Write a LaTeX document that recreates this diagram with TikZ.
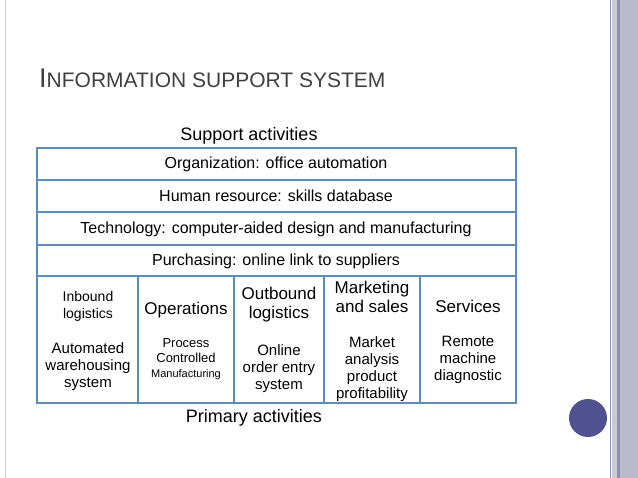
\documentclass[tikz,border=0pt]{standalone}
\usepackage{fontspec}
\setmainfont{Liberation Sans}
\begin{document}
\begin{tikzpicture}[x=1pt,y=-1pt,
  cell/.style={draw=boxblue,line width=1.2pt},
  big/.style={font=\fontsize{18}{20}\selectfont,align=center,text=black},
  mid/.style={font=\fontsize{16}{19}\selectfont,align=center},
  sml/.style={font=\fontsize{13}{15}\selectfont,align=center}]
\definecolor{boxblue}{HTML}{5B8DB8}
\definecolor{bar1}{HTML}{C9CAD8}
\definecolor{bar2}{HTML}{8E90AE}
\definecolor{bar3}{HTML}{B9BACC}
\definecolor{dot}{HTML}{4F5190}
\definecolor{ttl}{HTML}{404040}
\useasboundingbox (0,0) rectangle (638,478);
\fill[white] (0,0) rectangle (638,478);
% right decoration
\fill[bar3] (620,0) rectangle (638,478);
\fill[bar2] (617,0) rectangle (620,478);
\fill[bar1] (612,0) rectangle (617,478);
\draw[bar2,line width=0.8pt] (610.5,0) -- (610.5,478);
\draw[bar1,line width=0.8pt] (5,0) -- (5,478);
\node[circle,fill=dot,minimum size=38pt,inner sep=0] (dotc) at (588,418) {};
% title
\node[anchor=base west,text=ttl,inner sep=0] (title) at (39,88)
 {\fontsize{27}{30}\selectfont I\fontsize{21}{24}\selectfont NFORMATION SUPPORT SYSTEM};
\node[big] (sup) at (249,136) {Support activities};
% rows
\draw[cell] (37,148) rectangle (516,403);
\draw[cell] (37,180) -- (516,180);
\draw[cell] (37,212) -- (516,212);
\draw[cell] (37,245) -- (516,245);
\draw[cell] (37,276) -- (516,276);
\foreach \x in {138,234,324,420} \draw[cell] (\x,276) -- (\x,403);
\node[mid] (r1) at (276,164) {Organization: office automation};
\node[mid] (r2) at (276,196) {Human resource: skills database};
\node[mid] (r3) at (276,229) {Technology: computer-aided design and manufacturing};
\node[mid] (r4) at (276,261) {Purchasing: online link to suppliers};
% primary
\node[sml,font=\fontsize{14}{17}\selectfont] (c1a) at (88,306) {Inbound\\logistics};
\node[mid,font=\fontsize{15}{17}\selectfont] (c1b) at (88,367) {Automated\\warehousing\\system};
\node[mid,font=\fontsize{17}{19}\selectfont] (c2a) at (186,310) {Operations};
\node[sml,font=\fontsize{13}{15}\selectfont] (c2b) at (186,359) {Process\\Controlled\\{\fontsize{11}{13}\selectfont Manufacturing}};
\node[mid,font=\fontsize{17}{19}\selectfont] (c3a) at (279,305) {Outbound\\logistics};
\node[mid,font=\fontsize{15}{17}\selectfont] (c3b) at (279,369) {Online\\order entry\\system};
\node[mid,font=\fontsize{17}{19}\selectfont] (c4a) at (372,297) {Marketing\\and sales};
\node[mid,font=\fontsize{15}{17}\selectfont] (c4b) at (372,369) {Market\\analysis\\product\\profitability};
\node[mid,font=\fontsize{17}{19}\selectfont] (c5a) at (468,306) {Services};
\node[mid,font=\fontsize{15}{17}\selectfont] (c5b) at (468,360) {Remote\\machine\\diagnostic};
\node[big] (prim) at (254,418) {Primary activities};
\end{tikzpicture}
\end{document}
